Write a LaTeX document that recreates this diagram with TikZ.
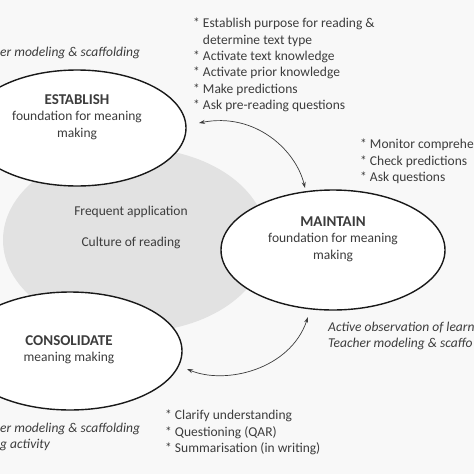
\documentclass[tikz,border=0pt]{standalone}
\usepackage{fontspec}
\setmainfont{Carlito}
\usetikzlibrary{shapes.geometric,arrows.meta}
\definecolor{ink}{HTML}{3C3C3C}
\definecolor{bg}{HTML}{F8F8F8}
\definecolor{blob}{HTML}{E2E2E2}
\newcommand{\ttl}[1]{{\fontsize{15}{16.4}\selectfont\bfseries #1}}
\begin{document}
\begin{tikzpicture}[x=1pt,y=-1pt,
  txt/.style={font=\fontsize{13.5}{16.4}\selectfont, text=ink, inner sep=0pt, align=left},
  itxt/.style={txt, font=\fontsize{13.5}{16.4}\selectfont\itshape},
  ell/.style={draw=black!90, line width=1.4pt, ellipse, inner sep=0pt, fill=white},
  conn/.style={draw=ink, line width=0.7pt, {Stealth[length=6pt,width=4pt]}-{Stealth[length=6pt,width=4pt]}}]
\useasboundingbox (0,0) rectangle (474,474);
\clip (0,0) rectangle (474,474);
\fill[bg] (0,0) rectangle (474,474);
\fill[blob] (135,240) ellipse [x radius=132, y radius=92];
% ellipses
\node[ell, minimum width=218pt, minimum height=116pt] (est) at (77,128) {};
\node[ell, minimum width=224pt, minimum height=120pt] (main) at (333,250) {};
\node[ell, minimum width=224pt, minimum height=118pt] (cons) at (70,351) {};
% ellipse texts
\node[txt, align=center] (estT) at (77,117) {\ttl{ESTABLISH}\\foundation for meaning\\making};
\node[txt, align=center] (mainT) at (333,239) {\ttl{MAINTAIN}\\foundation for meaning\\making};
\node[txt, align=center] (consT) at (69,350) {\ttl{CONSOLIDATE}\\meaning making};
% centre texts
\node[txt] (freq) at (131,212) {Frequent application};
\node[txt] (cult) at (131,243) {Culture of reading};
% lists
\node[txt, anchor=north west] (l1) at (193,18) {* Establish purpose for reading \&\\\phantom{* }determine text type\\* Activate text knowledge\\* Activate prior knowledge\\* Make predictions\\* Ask pre-reading questions};
\node[txt, anchor=north west] (l2) at (360,139) {* Monitor comprehe\\* Check predictions\\* Ask questions};
\node[txt, anchor=north west] (l3) at (165,410) {* Clarify understanding\\* Questioning (QAR)\\* Summarisation (in writing)};
\node[itxt, anchor=north west] (i1) at (0,47) {er modeling \& scaffolding};
\node[itxt, anchor=north west] (i2) at (328,322) {Active observation of learn\\Teacher modeling \& scaffo};
\node[itxt, anchor=north west] (i3) at (0,423) {er modeling \& scaffolding\\g activity};
% connectors
\coordinate (a1) at (199,123);
\coordinate (a2) at (305,188);
\coordinate (b1) at (187,369);
\coordinate (b2) at (308,317);
\draw[conn] (a1) .. controls (255,112) and (296,150) .. (a2);
\draw[conn] (b1) .. controls (225,385) and (290,370) .. (b2);
\end{tikzpicture}
\end{document}
